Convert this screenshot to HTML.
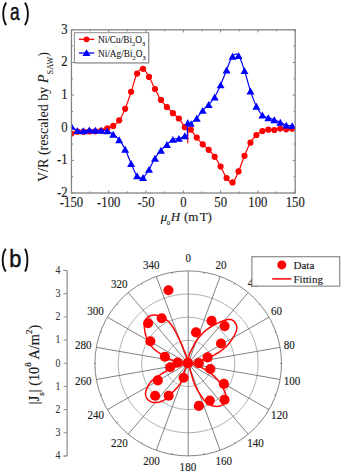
<!DOCTYPE html>
<html><head><meta charset="utf-8"><style>
html,body{margin:0;padding:0;background:#fff;width:342px;height:471px;overflow:hidden;}
svg{display:block;font-family:"Liberation Serif",serif;}
</style></head><body><svg width="342" height="471" viewBox="0 0 342 471"><clipPath id="ca"><rect x="71.45" y="29.80" width="223.75" height="163.20"/></clipPath><path d="M71.45 193.00v-2.60M71.45 29.80v2.60M90.10 193.00v-1.60M90.10 29.80v1.60M108.74 193.00v-2.60M108.74 29.80v2.60M127.39 193.00v-1.60M127.39 29.80v1.60M146.03 193.00v-2.60M146.03 29.80v2.60M164.68 193.00v-1.60M164.68 29.80v1.60M183.32 193.00v-2.60M183.32 29.80v2.60M201.97 193.00v-1.60M201.97 29.80v1.60M220.62 193.00v-2.60M220.62 29.80v2.60M239.26 193.00v-1.60M239.26 29.80v1.60M257.91 193.00v-2.60M257.91 29.80v2.60M276.55 193.00v-1.60M276.55 29.80v1.60M295.20 193.00v-2.60M295.20 29.80v2.60M71.45 193.00h2.60M295.20 193.00h-2.60M71.45 176.68h1.60M295.20 176.68h-1.60M71.45 160.36h2.60M295.20 160.36h-2.60M71.45 144.04h1.60M295.20 144.04h-1.60M71.45 127.72h2.60M295.20 127.72h-2.60M71.45 111.40h1.60M295.20 111.40h-1.60M71.45 95.08h2.60M295.20 95.08h-2.60M71.45 78.76h1.60M295.20 78.76h-1.60M71.45 62.44h2.60M295.20 62.44h-2.60M71.45 46.12h1.60M295.20 46.12h-1.60M71.45 29.80h2.60M295.20 29.80h-2.60" stroke="#858585" stroke-width="1" fill="none"/><g clip-path="url(#ca)"><polyline points="71.45,133.50 72.10,133.28 73.00,132.97 74.06,132.60 75.21,132.23 76.35,131.92 77.42,131.70 78.41,131.60 79.41,131.57 80.40,131.60 81.39,131.65 82.39,131.69 83.38,131.70 84.38,131.68 85.37,131.65 86.37,131.61 87.36,131.57 88.36,131.54 89.35,131.50 90.34,131.47 91.34,131.45 92.33,131.43 93.33,131.40 94.32,131.36 95.32,131.30 96.31,131.23 97.31,131.16 98.30,131.08 99.29,130.96 100.29,130.81 101.28,130.60 102.28,130.32 103.27,129.99 104.27,129.61 105.26,129.21 106.26,128.80 107.25,128.40 108.24,128.04 109.24,127.70 110.23,127.36 111.23,126.97 112.22,126.50 113.22,125.90 114.21,125.21 115.21,124.48 116.20,123.66 117.19,122.72 118.19,121.61 119.18,120.30 120.18,118.79 121.17,117.11 122.17,115.26 123.16,113.26 124.16,111.10 125.15,108.80 126.14,106.30 127.14,103.59 128.13,100.72 129.13,97.76 130.12,94.77 131.12,91.80 132.11,88.68 133.11,85.32 134.10,81.93 135.09,78.71 136.09,75.87 137.08,73.60 138.08,71.88 139.07,70.55 140.07,69.58 141.06,68.99 142.06,68.75 143.05,68.85 144.04,69.40 145.04,70.44 146.03,71.82 147.03,73.44 148.02,75.18 149.02,76.90 150.01,78.70 151.01,80.68 152.00,82.77 152.99,84.91 153.99,87.01 154.98,89.00 155.98,90.93 156.97,92.86 157.97,94.76 158.96,96.59 159.96,98.32 160.95,99.90 161.94,101.31 162.94,102.58 163.93,103.74 164.93,104.84 165.92,105.91 166.92,107.00 167.91,108.10 168.91,109.17 169.90,110.21 170.90,111.23 171.89,112.23 172.88,113.20 173.88,114.10 174.87,114.91 175.87,115.69 176.86,116.51 177.86,117.43 178.85,118.50 179.91,119.85 181.06,121.47 182.21,123.18 183.27,124.82 184.17,126.21 184.82,127.20 187.70,127.80 187.70,143.30 187.90,128.50 190.78,129.70 191.43,130.57 192.33,131.79 193.39,133.23 194.54,134.76 195.69,136.26 196.75,137.60 197.75,138.80 198.74,139.97 199.73,141.10 200.73,142.20 201.72,143.27 202.72,144.30 203.71,145.27 204.71,146.17 205.70,147.03 206.70,147.90 207.69,148.81 208.68,149.80 209.68,150.85 210.67,151.92 211.67,153.04 212.66,154.21 213.66,155.46 214.65,156.80 215.65,158.24 216.64,159.77 217.63,161.37 218.63,163.03 219.62,164.75 220.62,166.50 221.61,168.39 222.61,170.46 223.60,172.58 224.60,174.63 225.59,176.47 226.58,178.00 227.58,179.32 228.57,180.56 229.57,181.61 230.56,182.34 231.56,182.64 232.55,182.40 233.55,181.51 234.54,180.04 235.53,178.15 236.53,175.98 237.52,173.68 238.52,171.40 239.51,169.04 240.51,166.45 241.50,163.73 242.50,160.99 243.49,158.31 244.48,155.80 245.48,153.41 246.47,151.05 247.47,148.76 248.46,146.57 249.46,144.54 250.45,142.70 251.45,141.06 252.44,139.59 253.43,138.28 254.43,137.09 255.42,136.00 256.42,135.00 257.41,134.10 258.41,133.33 259.40,132.66 260.40,132.07 261.39,131.56 262.38,131.10 263.38,130.70 264.37,130.39 265.37,130.14 266.36,129.95 267.36,129.81 268.35,129.70 269.35,129.67 270.34,129.74 271.33,129.85 272.33,129.96 273.32,130.03 274.32,130.00 275.31,129.84 276.31,129.58 277.30,129.28 278.30,128.97 279.29,128.73 280.28,128.60 281.28,128.61 282.27,128.73 283.27,128.90 284.26,129.09 285.26,129.23 286.25,129.30 287.31,129.27 288.46,129.17 289.61,129.04 290.67,128.90 291.57,128.78 292.22,128.70" fill="none" stroke="#ff0000" stroke-width="1.2"/><circle cx="71.45" cy="133.50" r="3.1" fill="#ff0000"/><circle cx="77.42" cy="131.70" r="3.1" fill="#ff0000"/><circle cx="83.38" cy="131.70" r="3.1" fill="#ff0000"/><circle cx="89.35" cy="131.50" r="3.1" fill="#ff0000"/><circle cx="95.32" cy="131.30" r="3.1" fill="#ff0000"/><circle cx="101.28" cy="130.60" r="3.1" fill="#ff0000"/><circle cx="107.25" cy="128.40" r="3.1" fill="#ff0000"/><circle cx="113.22" cy="125.90" r="3.1" fill="#ff0000"/><circle cx="119.18" cy="120.30" r="3.1" fill="#ff0000"/><circle cx="125.15" cy="108.80" r="3.1" fill="#ff0000"/><circle cx="131.12" cy="91.80" r="3.1" fill="#ff0000"/><circle cx="137.08" cy="73.60" r="3.1" fill="#ff0000"/><circle cx="143.05" cy="68.85" r="3.1" fill="#ff0000"/><circle cx="149.02" cy="76.90" r="3.1" fill="#ff0000"/><circle cx="154.98" cy="89.00" r="3.1" fill="#ff0000"/><circle cx="160.95" cy="99.90" r="3.1" fill="#ff0000"/><circle cx="166.92" cy="107.00" r="3.1" fill="#ff0000"/><circle cx="172.88" cy="113.20" r="3.1" fill="#ff0000"/><circle cx="178.85" cy="118.50" r="3.1" fill="#ff0000"/><circle cx="184.82" cy="127.20" r="3.1" fill="#ff0000"/><circle cx="190.78" cy="129.70" r="3.1" fill="#ff0000"/><circle cx="196.75" cy="137.60" r="3.1" fill="#ff0000"/><circle cx="202.72" cy="144.30" r="3.1" fill="#ff0000"/><circle cx="208.68" cy="149.80" r="3.1" fill="#ff0000"/><circle cx="214.65" cy="156.80" r="3.1" fill="#ff0000"/><circle cx="220.62" cy="166.50" r="3.1" fill="#ff0000"/><circle cx="226.58" cy="178.00" r="3.1" fill="#ff0000"/><circle cx="232.55" cy="182.40" r="3.1" fill="#ff0000"/><circle cx="238.52" cy="171.40" r="3.1" fill="#ff0000"/><circle cx="244.48" cy="155.80" r="3.1" fill="#ff0000"/><circle cx="250.45" cy="142.70" r="3.1" fill="#ff0000"/><circle cx="256.42" cy="135.00" r="3.1" fill="#ff0000"/><circle cx="262.38" cy="131.10" r="3.1" fill="#ff0000"/><circle cx="268.35" cy="129.70" r="3.1" fill="#ff0000"/><circle cx="274.32" cy="130.00" r="3.1" fill="#ff0000"/><circle cx="280.28" cy="128.60" r="3.1" fill="#ff0000"/><circle cx="286.25" cy="129.30" r="3.1" fill="#ff0000"/><circle cx="292.22" cy="128.70" r="3.1" fill="#ff0000"/><polyline points="71.45,126.30 72.10,126.82 73.00,127.57 74.06,128.44 75.21,129.31 76.35,130.07 77.42,130.60 78.41,130.88 79.41,131.01 80.40,131.03 81.39,130.97 82.39,130.88 83.38,130.80 84.38,130.70 85.37,130.53 86.37,130.34 87.36,130.14 88.36,129.99 89.35,129.90 90.34,129.89 91.34,129.95 92.33,130.04 93.33,130.14 94.32,130.24 95.32,130.30 96.31,130.33 97.31,130.34 98.30,130.34 99.29,130.35 100.29,130.36 101.28,130.40 102.28,130.43 103.27,130.43 104.27,130.44 105.26,130.50 106.26,130.64 107.25,130.90 108.24,131.27 109.24,131.74 110.23,132.29 111.23,132.90 112.22,133.58 113.22,134.30 114.21,135.05 115.21,135.83 116.20,136.67 117.19,137.59 118.19,138.63 119.18,139.80 120.18,141.10 121.17,142.50 122.17,144.01 123.16,145.64 124.16,147.40 125.15,149.30 126.14,151.42 127.14,153.76 128.13,156.23 129.13,158.73 130.12,161.19 131.12,163.50 132.11,165.78 133.11,168.13 134.10,170.43 135.09,172.56 136.09,174.39 137.08,175.80 138.08,176.81 139.07,177.51 140.07,177.93 141.06,178.05 142.06,177.91 143.05,177.50 144.04,176.75 145.04,175.64 146.03,174.26 147.03,172.69 148.02,171.04 149.02,169.40 150.01,167.67 151.01,165.77 152.00,163.79 152.99,161.80 153.99,159.91 154.98,158.20 155.98,156.67 156.97,155.24 157.97,153.91 158.96,152.66 159.96,151.46 160.95,150.30 161.94,149.20 162.94,148.19 163.93,147.22 164.93,146.30 165.92,145.40 166.92,144.50 167.91,143.56 168.91,142.60 169.90,141.65 170.90,140.77 171.89,140.00 172.88,139.40 173.88,139.02 174.87,138.83 175.87,138.75 176.86,138.71 177.86,138.62 178.85,138.40 179.91,138.02 181.06,137.53 182.21,136.99 183.27,136.46 184.17,136.01 184.82,135.70 187.30,136.00 187.50,123.00 191.20,123.40 196.75,118.30 197.40,117.42 198.30,116.18 199.36,114.72 200.51,113.18 201.65,111.69 202.72,110.40 203.71,109.32 204.71,108.34 205.70,107.43 206.70,106.51 207.69,105.55 208.68,104.50 209.68,103.40 210.67,102.29 211.67,101.14 212.66,99.90 213.66,98.53 214.65,97.00 215.65,95.28 216.64,93.41 217.63,91.41 218.63,89.31 219.62,87.13 220.62,84.90 221.61,82.57 222.61,80.10 223.60,77.56 224.60,74.99 225.59,72.45 226.58,70.00 227.58,67.48 228.57,64.83 229.57,62.21 230.56,59.79 231.56,57.73 232.55,56.20 233.55,55.14 234.54,54.41 235.53,54.04 236.53,54.08 237.52,54.55 238.52,55.50 239.51,57.04 240.51,59.17 241.50,61.73 242.50,64.59 243.49,67.59 244.48,70.60 245.48,73.75 246.47,77.20 247.47,80.79 248.46,84.38 249.46,87.83 250.45,91.00 251.45,93.92 252.44,96.72 253.43,99.38 254.43,101.88 255.42,104.19 256.42,106.30 257.41,108.20 258.41,109.91 259.40,111.44 260.40,112.79 261.39,113.97 262.38,115.00 263.38,115.80 264.37,116.37 265.37,116.76 266.36,117.07 267.36,117.35 268.35,117.70 269.35,118.08 270.34,118.43 271.33,118.76 272.33,119.09 273.32,119.43 274.32,119.80 275.31,120.19 276.31,120.59 277.30,121.01 278.30,121.43 279.29,121.86 280.28,122.30 281.28,122.78 282.27,123.30 283.27,123.83 284.26,124.33 285.26,124.76 286.25,125.10 287.31,125.32 288.46,125.46 289.61,125.52 290.67,125.56 291.57,125.57 292.22,125.60" fill="none" stroke="#0000ff" stroke-width="1.2"/><path d="M71.45 122.85L75.45 129.75L67.45 129.75ZM77.42 127.15L81.42 134.05L73.42 134.05ZM83.38 127.35L87.38 134.25L79.38 134.25ZM89.35 126.45L93.35 133.35L85.35 133.35ZM95.32 126.85L99.32 133.75L91.32 133.75ZM101.28 126.95L105.28 133.85L97.28 133.85ZM107.25 127.45L111.25 134.35L103.25 134.35ZM113.22 130.85L117.22 137.75L109.22 137.75ZM119.18 136.35L123.18 143.25L115.18 143.25ZM125.15 145.85L129.15 152.75L121.15 152.75ZM131.12 160.05L135.12 166.95L127.12 166.95ZM137.08 172.35L141.08 179.25L133.08 179.25ZM143.05 174.05L147.05 180.95L139.05 180.95ZM149.02 165.95L153.02 172.85L145.02 172.85ZM154.98 154.75L158.98 161.65L150.98 161.65ZM160.95 146.85L164.95 153.75L156.95 153.75ZM166.92 141.05L170.92 147.95L162.92 147.95ZM172.88 135.95L176.88 142.85L168.88 142.85ZM178.85 134.95L182.85 141.85L174.85 141.85ZM184.82 132.25L188.82 139.15L180.82 139.15ZM187.80 119.10L191.20 125.70L184.40 125.70ZM191.20 120.20L194.60 126.80L187.80 126.80ZM196.75 114.85L200.75 121.75L192.75 121.75ZM202.72 106.95L206.72 113.85L198.72 113.85ZM208.68 101.05L212.68 107.95L204.68 107.95ZM214.65 93.55L218.65 100.45L210.65 100.45ZM220.62 81.45L224.62 88.35L216.62 88.35ZM226.58 66.55L230.58 73.45L222.58 73.45ZM232.55 52.75L236.55 59.65L228.55 59.65ZM238.52 52.05L242.52 58.95L234.52 58.95ZM244.48 67.15L248.48 74.05L240.48 74.05ZM250.45 87.55L254.45 94.45L246.45 94.45ZM256.42 102.85L260.42 109.75L252.42 109.75ZM262.38 111.55L266.38 118.45L258.38 118.45ZM268.35 114.25L272.35 121.15L264.35 121.15ZM274.32 116.35L278.32 123.25L270.32 123.25ZM280.28 118.85L284.28 125.75L276.28 125.75ZM286.25 121.65L290.25 128.55L282.25 128.55ZM292.22 122.15L296.22 129.05L288.22 129.05Z" fill="#0000ff"/></g><rect x="71.45" y="29.80" width="223.75" height="163.20" fill="none" stroke="#858585" stroke-width="1.3"/><rect x="75.2" y="33.5" width="74.2" height="30.1" fill="#b0b0b0"/><rect x="74.4" y="32.7" width="74.2" height="30.1" fill="#fff" stroke="#8c8c8c" stroke-width="1.0"/><line x1="79" y1="39.3" x2="94.3" y2="39.3" stroke="#ff0000" stroke-width="1.3"/><circle cx="86.5" cy="39.3" r="2.9" fill="#ff0000"/><line x1="79" y1="53.0" x2="94.3" y2="53.0" stroke="#0000ff" stroke-width="1.3"/><path d="M86.50 49.15L90.50 56.05L82.50 56.05Z" fill="#0000ff"/><text transform="translate(98,42.5) scale(1,1.08)" font-family="Liberation Serif, serif" stroke="#1a1a1a" stroke-width="0.1" font-size="9.3" fill="#1a1a1a">Ni/Cu/Bi<tspan font-size="6.4" dy="2.9">2</tspan><tspan dy="-2.9">O</tspan><tspan font-size="6.4" dy="2.9">3</tspan></text><text transform="translate(98,56.9) scale(1,1.08)" font-family="Liberation Serif, serif" stroke="#1a1a1a" stroke-width="0.1" font-size="9.3" fill="#1a1a1a">Ni/Ag/Bi<tspan font-size="6.4" dy="2.9">2</tspan><tspan dy="-2.9">O</tspan><tspan font-size="6.4" dy="2.9">3</tspan></text><text transform="translate(67.7,33.70) scale(0.98,1.08)" font-family="Liberation Serif, serif" stroke="#1a1a1a" stroke-width="0.13" font-size="13" fill="#1a1a1a" text-anchor="end">3</text><text transform="translate(67.7,66.34) scale(0.98,1.08)" font-family="Liberation Serif, serif" stroke="#1a1a1a" stroke-width="0.13" font-size="13" fill="#1a1a1a" text-anchor="end">2</text><text transform="translate(67.7,98.98) scale(0.98,1.08)" font-family="Liberation Serif, serif" stroke="#1a1a1a" stroke-width="0.13" font-size="13" fill="#1a1a1a" text-anchor="end">1</text><text transform="translate(67.7,131.62) scale(0.98,1.08)" font-family="Liberation Serif, serif" stroke="#1a1a1a" stroke-width="0.13" font-size="13" fill="#1a1a1a" text-anchor="end">0</text><text transform="translate(67.7,164.26) scale(0.98,1.08)" font-family="Liberation Serif, serif" stroke="#1a1a1a" stroke-width="0.13" font-size="13" fill="#1a1a1a" text-anchor="end">-1</text><text transform="translate(67.7,196.90) scale(0.98,1.08)" font-family="Liberation Serif, serif" stroke="#1a1a1a" stroke-width="0.13" font-size="13" fill="#1a1a1a" text-anchor="end">-2</text><text transform="translate(71.45,206.8) scale(0.98,1.08)" font-family="Liberation Serif, serif" stroke="#1a1a1a" stroke-width="0.13" font-size="13" fill="#1a1a1a" text-anchor="middle">-150</text><text transform="translate(108.74,206.8) scale(0.98,1.08)" font-family="Liberation Serif, serif" stroke="#1a1a1a" stroke-width="0.13" font-size="13" fill="#1a1a1a" text-anchor="middle">-100</text><text transform="translate(146.03,206.8) scale(0.98,1.08)" font-family="Liberation Serif, serif" stroke="#1a1a1a" stroke-width="0.13" font-size="13" fill="#1a1a1a" text-anchor="middle">-50</text><text transform="translate(183.32,206.8) scale(0.98,1.08)" font-family="Liberation Serif, serif" stroke="#1a1a1a" stroke-width="0.13" font-size="13" fill="#1a1a1a" text-anchor="middle">0</text><text transform="translate(220.62,206.8) scale(0.98,1.08)" font-family="Liberation Serif, serif" stroke="#1a1a1a" stroke-width="0.13" font-size="13" fill="#1a1a1a" text-anchor="middle">50</text><text transform="translate(257.91,206.8) scale(0.98,1.08)" font-family="Liberation Serif, serif" stroke="#1a1a1a" stroke-width="0.13" font-size="13" fill="#1a1a1a" text-anchor="middle">100</text><text transform="translate(295.20,206.8) scale(0.98,1.08)" font-family="Liberation Serif, serif" stroke="#1a1a1a" stroke-width="0.13" font-size="13" fill="#1a1a1a" text-anchor="middle">150</text><text x="160.8" y="220.8" font-family="Liberation Serif, serif" stroke="#1a1a1a" stroke-width="0.13" font-size="13" fill="#1a1a1a"><tspan font-style="italic">&#956;</tspan><tspan font-size="7" dy="4.2" dx="-0.5">0</tspan><tspan font-style="italic" dy="-4.2" dx="0.4">H</tspan><tspan dx="0.6"> (m</tspan><tspan dx="1.2">T</tspan>)</text><text transform="translate(47.5,182.1) rotate(-90)" font-family="Liberation Serif, serif" stroke="#1a1a1a" stroke-width="0.06" font-size="14.1" fill="#1a1a1a">V/R (rescaled by <tspan font-style="italic">P</tspan><tspan font-size="8.3" dy="5">SAW</tspan><tspan dy="-5">)</tspan></text><path d="M6.20 2.60C2.20 8.22,2.20 19.48,6.20 25.10M24.90 2.60C28.90 8.22,28.90 19.48,24.90 25.10" stroke="#111" stroke-width="1.9" fill="none"/><text transform="translate(10.02,20.32) scale(0.693,0.920)" font-family="Liberation Sans, sans-serif" font-size="25" fill="#111" stroke="#111" stroke-width="0.50">a</text><path d="M5.80 248.80C1.67 254.48,1.67 265.82,5.80 271.50M25.00 248.80C28.20 254.48,28.20 265.82,25.00 271.50" stroke="#111" stroke-width="1.9" fill="none"/><text transform="translate(9.33,266.71) scale(0.873,0.969)" font-family="Liberation Sans, sans-serif" font-size="25" fill="#111" stroke="#111" stroke-width="0.50">b</text><path d="M67.1 270.5V456M63.4 270.5H67.1M63.4 456H67.1" stroke="#8a8a8a" stroke-width="1.2" fill="none"/><path d="M63.6 270.50H67.1M63.6 293.69H67.1M63.6 316.88H67.1M63.6 340.06H67.1M63.6 363.25H67.1M63.6 386.44H67.1M63.6 409.62H67.1M63.6 432.81H67.1M63.6 456.00H67.1" stroke="#8a8a8a" stroke-width="1" fill="none"/><text transform="translate(60.4,273.90) scale(0.9,1.12)" font-family="Liberation Serif, serif" stroke="#1a1a1a" stroke-width="0.06" font-size="11" fill="#333" text-anchor="end">4</text><text transform="translate(60.4,297.09) scale(0.9,1.12)" font-family="Liberation Serif, serif" stroke="#1a1a1a" stroke-width="0.06" font-size="11" fill="#333" text-anchor="end">3</text><text transform="translate(60.4,320.27) scale(0.9,1.12)" font-family="Liberation Serif, serif" stroke="#1a1a1a" stroke-width="0.06" font-size="11" fill="#333" text-anchor="end">2</text><text transform="translate(60.4,343.46) scale(0.9,1.12)" font-family="Liberation Serif, serif" stroke="#1a1a1a" stroke-width="0.06" font-size="11" fill="#333" text-anchor="end">1</text><text transform="translate(60.4,366.65) scale(0.9,1.12)" font-family="Liberation Serif, serif" stroke="#1a1a1a" stroke-width="0.06" font-size="11" fill="#333" text-anchor="end">0</text><text transform="translate(60.4,389.84) scale(0.9,1.12)" font-family="Liberation Serif, serif" stroke="#1a1a1a" stroke-width="0.06" font-size="11" fill="#333" text-anchor="end">1</text><text transform="translate(60.4,413.02) scale(0.9,1.12)" font-family="Liberation Serif, serif" stroke="#1a1a1a" stroke-width="0.06" font-size="11" fill="#333" text-anchor="end">2</text><text transform="translate(60.4,436.21) scale(0.9,1.12)" font-family="Liberation Serif, serif" stroke="#1a1a1a" stroke-width="0.06" font-size="11" fill="#333" text-anchor="end">3</text><text transform="translate(60.4,459.40) scale(0.9,1.12)" font-family="Liberation Serif, serif" stroke="#1a1a1a" stroke-width="0.06" font-size="11" fill="#333" text-anchor="end">4</text><ellipse cx="188.20" cy="363.40" rx="23.32" ry="23.12" fill="none" stroke="#a8a8a8" stroke-width="0.9"/><ellipse cx="188.20" cy="363.40" rx="46.65" ry="46.25" fill="none" stroke="#a8a8a8" stroke-width="0.9"/><ellipse cx="188.20" cy="363.40" rx="69.97" ry="69.38" fill="none" stroke="#a8a8a8" stroke-width="0.9"/><path d="M188.20 363.40L188.20 270.90M188.20 363.40L220.11 276.48M188.20 363.40L248.17 292.54M188.20 363.40L269.00 317.15M188.20 363.40L280.08 347.34M188.20 363.40L280.08 379.46M188.20 363.40L269.00 409.65M188.20 363.40L248.17 434.26M188.20 363.40L220.11 450.32M188.20 363.40L188.20 455.90M188.20 363.40L156.29 450.32M188.20 363.40L128.23 434.26M188.20 363.40L107.40 409.65M188.20 363.40L96.32 379.46M188.20 363.40L96.32 347.34M188.20 363.40L107.40 317.15M188.20 363.40L128.23 292.54M188.20 363.40L156.29 276.48" stroke="#6a6a6a" stroke-width="0.85" fill="none"/><ellipse cx="188.20" cy="363.40" rx="93.30" ry="92.50" fill="none" stroke="#777" stroke-width="0.9"/><path d="M204.40 272.31L204.18 273.59M234.85 283.29L234.20 284.42M259.67 303.94L258.68 304.78M275.87 331.76L274.65 332.21M281.50 363.40L280.20 363.40M275.87 395.04L274.65 394.59M259.67 422.86L258.68 422.02M234.85 443.51L234.20 442.38M204.40 454.49L204.18 453.21M172.00 454.49L172.22 453.21M141.55 443.51L142.20 442.38M116.73 422.86L117.72 422.02M100.53 395.04L101.75 394.59M94.90 363.40L96.20 363.40M100.53 331.76L101.75 332.21M116.73 303.94L117.72 304.78M141.55 283.29L142.20 284.42M172.00 272.31L172.22 273.59" stroke="#666" stroke-width="1" fill="none"/><text transform="translate(188.25,261.55) scale(0.97,1.1)" font-family="Liberation Serif, serif" stroke="#1a1a1a" stroke-width="0.13" font-size="11.4" fill="#1a1a1a" text-anchor="middle">0</text><text transform="translate(221.00,268.90) scale(0.97,1.1)" font-family="Liberation Serif, serif" stroke="#1a1a1a" stroke-width="0.13" font-size="11.4" fill="#1a1a1a" text-anchor="middle">20</text><text transform="translate(253.20,287.40) scale(0.97,1.1)" font-family="Liberation Serif, serif" stroke="#1a1a1a" stroke-width="0.13" font-size="11.4" fill="#1a1a1a" text-anchor="middle">40</text><text transform="translate(276.60,314.90) scale(0.97,1.1)" font-family="Liberation Serif, serif" stroke="#1a1a1a" stroke-width="0.13" font-size="11.4" fill="#1a1a1a" text-anchor="middle">60</text><text transform="translate(289.20,349.00) scale(0.97,1.1)" font-family="Liberation Serif, serif" stroke="#1a1a1a" stroke-width="0.13" font-size="11.4" fill="#1a1a1a" text-anchor="middle">80</text><text transform="translate(292.00,385.30) scale(0.97,1.1)" font-family="Liberation Serif, serif" stroke="#1a1a1a" stroke-width="0.13" font-size="11.4" fill="#1a1a1a" text-anchor="middle">100</text><text transform="translate(279.40,419.30) scale(0.97,1.1)" font-family="Liberation Serif, serif" stroke="#1a1a1a" stroke-width="0.13" font-size="11.4" fill="#1a1a1a" text-anchor="middle">120</text><text transform="translate(255.60,446.70) scale(0.97,1.1)" font-family="Liberation Serif, serif" stroke="#1a1a1a" stroke-width="0.13" font-size="11.4" fill="#1a1a1a" text-anchor="middle">140</text><text transform="translate(223.70,465.00) scale(0.97,1.1)" font-family="Liberation Serif, serif" stroke="#1a1a1a" stroke-width="0.13" font-size="11.4" fill="#1a1a1a" text-anchor="middle">160</text><text transform="translate(187.90,471.00) scale(0.97,1.1)" font-family="Liberation Serif, serif" stroke="#1a1a1a" stroke-width="0.13" font-size="11.4" fill="#1a1a1a" text-anchor="middle">180</text><text transform="translate(151.50,465.00) scale(0.97,1.1)" font-family="Liberation Serif, serif" stroke="#1a1a1a" stroke-width="0.13" font-size="11.4" fill="#1a1a1a" text-anchor="middle">200</text><text transform="translate(119.40,447.00) scale(0.97,1.1)" font-family="Liberation Serif, serif" stroke="#1a1a1a" stroke-width="0.13" font-size="11.4" fill="#1a1a1a" text-anchor="middle">220</text><text transform="translate(95.70,419.40) scale(0.97,1.1)" font-family="Liberation Serif, serif" stroke="#1a1a1a" stroke-width="0.13" font-size="11.4" fill="#1a1a1a" text-anchor="middle">240</text><text transform="translate(83.30,385.10) scale(0.97,1.1)" font-family="Liberation Serif, serif" stroke="#1a1a1a" stroke-width="0.13" font-size="11.4" fill="#1a1a1a" text-anchor="middle">260</text><text transform="translate(83.30,349.40) scale(0.97,1.1)" font-family="Liberation Serif, serif" stroke="#1a1a1a" stroke-width="0.13" font-size="11.4" fill="#1a1a1a" text-anchor="middle">280</text><text transform="translate(95.50,315.10) scale(0.97,1.1)" font-family="Liberation Serif, serif" stroke="#1a1a1a" stroke-width="0.13" font-size="11.4" fill="#1a1a1a" text-anchor="middle">300</text><text transform="translate(119.30,287.50) scale(0.97,1.1)" font-family="Liberation Serif, serif" stroke="#1a1a1a" stroke-width="0.13" font-size="11.4" fill="#1a1a1a" text-anchor="middle">320</text><text transform="translate(151.30,269.10) scale(0.97,1.1)" font-family="Liberation Serif, serif" stroke="#1a1a1a" stroke-width="0.13" font-size="11.4" fill="#1a1a1a" text-anchor="middle">340</text><polyline points="188.20,363.40 188.24,362.82 188.27,362.03 188.31,361.10 188.37,360.06 188.45,358.98 188.55,357.89 188.70,356.85 188.90,355.90 189.15,355.04 189.44,354.22 189.76,353.42 190.12,352.64 190.51,351.85 190.92,351.03 191.35,350.19 191.80,349.30 192.27,348.35 192.76,347.36 193.27,346.34 193.81,345.29 194.37,344.24 194.96,343.20 195.57,342.18 196.20,341.20 196.87,340.23 197.57,339.27 198.31,338.31 199.06,337.36 199.83,336.44 200.60,335.55 201.36,334.70 202.10,333.90 202.82,333.15 203.52,332.45 204.22,331.80 204.91,331.17 205.62,330.56 206.35,329.97 207.10,329.39 207.90,328.80 208.74,328.21 209.60,327.63 210.49,327.06 211.41,326.51 212.34,325.96 213.28,325.43 214.24,324.91 215.20,324.40 216.18,323.90 217.20,323.39 218.23,322.89 219.27,322.41 220.32,321.95 221.34,321.53 222.34,321.14 223.30,320.80 224.23,320.49 225.16,320.19 226.07,319.92 226.96,319.68 227.82,319.50 228.65,319.38 229.45,319.34 230.20,319.40 230.92,319.55 231.62,319.79 232.29,320.11 232.92,320.49 233.51,320.93 234.06,321.42 234.56,321.95 235.00,322.50 235.40,323.09 235.77,323.73 236.11,324.42 236.39,325.14 236.61,325.91 236.76,326.71 236.83,327.54 236.80,328.40 236.68,329.30 236.46,330.24 236.16,331.22 235.79,332.24 235.36,333.27 234.88,334.32 234.36,335.36 233.80,336.40 233.19,337.45 232.52,338.54 231.79,339.65 231.02,340.76 230.21,341.85 229.38,342.92 228.54,343.94 227.70,344.90 226.85,345.80 225.98,346.67 225.09,347.49 224.18,348.29 223.25,349.05 222.31,349.79 221.36,350.50 220.40,351.20 219.44,351.87 218.48,352.50 217.51,353.10 216.53,353.67 215.53,354.24 214.49,354.79 213.42,355.34 212.30,355.90 211.10,356.47 209.83,357.05 208.49,357.64 207.14,358.21 205.79,358.77 204.48,359.29 203.24,359.77 202.10,360.20 201.06,360.57 200.10,360.90 199.20,361.19 198.34,361.45 197.50,361.68 196.68,361.90 195.85,362.10 195.00,362.30 194.09,362.49 193.12,362.67 192.13,362.83 191.16,362.98 190.24,363.11 189.41,363.23 188.72,363.32 188.20,363.40" fill="none" stroke="#ff0000" stroke-width="1.5" stroke-linejoin="round"/><polyline points="188.20,363.40 189.07,363.61 190.22,363.86 191.59,364.15 193.11,364.49 194.73,364.89 196.37,365.36 197.99,365.89 199.50,366.50 200.98,367.21 202.52,368.03 204.09,368.93 205.65,369.89 207.18,370.88 208.65,371.88 210.04,372.86 211.30,373.80 212.44,374.70 213.48,375.58 214.44,376.45 215.34,377.32 216.18,378.21 217.00,379.13 217.80,380.09 218.60,381.10 219.41,382.18 220.20,383.33 220.98,384.52 221.73,385.74 222.44,386.96 223.09,388.18 223.68,389.36 224.20,390.50 224.66,391.61 225.09,392.71 225.46,393.79 225.78,394.86 226.03,395.90 226.19,396.91 226.25,397.88 226.20,398.80 226.04,399.69 225.78,400.57 225.43,401.42 224.99,402.23 224.47,402.99 223.88,403.68 223.22,404.29 222.50,404.80 221.69,405.24 220.76,405.62 219.74,405.93 218.66,406.17 217.54,406.32 216.41,406.39 215.29,406.35 214.20,406.20 213.11,405.93 211.99,405.53 210.84,405.03 209.70,404.44 208.57,403.77 207.49,403.05 206.46,402.29 205.50,401.50 204.62,400.67 203.81,399.77 203.05,398.81 202.32,397.80 201.63,396.75 200.95,395.68 200.28,394.59 199.60,393.50 198.91,392.40 198.24,391.28 197.57,390.14 196.91,388.98 196.27,387.79 195.66,386.56 195.07,385.30 194.50,384.00 193.96,382.62 193.45,381.16 192.96,379.65 192.49,378.11 192.05,376.58 191.61,375.08 191.20,373.64 190.80,372.30 190.40,370.99 190.01,369.67 189.63,368.37 189.27,367.12 188.94,365.96 188.64,364.93 188.39,364.07 188.20,363.40" fill="none" stroke="#ff0000" stroke-width="1.5" stroke-linejoin="round"/><polyline points="188.20,363.40 187.86,364.08 187.40,364.97 186.85,366.03 186.24,367.21 185.61,368.48 184.98,369.77 184.40,371.06 183.90,372.30 183.49,373.52 183.16,374.79 182.87,376.09 182.59,377.41 182.28,378.72 181.92,380.02 181.47,381.28 180.90,382.50 180.21,383.67 179.43,384.80 178.57,385.90 177.66,386.99 176.69,388.06 175.68,389.13 174.65,390.21 173.60,391.30 172.52,392.44 171.38,393.65 170.20,394.88 168.99,396.09 167.76,397.26 166.53,398.34 165.30,399.30 164.10,400.10 162.89,400.75 161.66,401.30 160.42,401.75 159.18,402.09 157.96,402.35 156.79,402.52 155.66,402.60 154.60,402.60 153.59,402.51 152.60,402.31 151.65,402.03 150.74,401.66 149.89,401.21 149.11,400.69 148.41,400.12 147.80,399.50 147.26,398.82 146.76,398.05 146.33,397.22 145.97,396.33 145.70,395.39 145.54,394.39 145.50,393.36 145.60,392.30 145.85,391.16 146.24,389.92 146.76,388.61 147.38,387.27 148.09,385.93 148.86,384.63 149.67,383.41 150.50,382.30 151.39,381.30 152.36,380.36 153.40,379.49 154.49,378.66 155.62,377.87 156.76,377.11 157.89,376.35 159.00,375.60 160.09,374.85 161.19,374.13 162.29,373.43 163.41,372.74 164.53,372.08 165.67,371.44 166.82,370.81 168.00,370.20 169.20,369.61 170.43,369.03 171.67,368.47 172.92,367.92 174.19,367.41 175.46,366.91 176.73,366.44 178.00,366.00 179.34,365.58 180.78,365.18 182.26,364.79 183.72,364.44 185.11,364.11 186.36,363.83 187.41,363.59 188.20,363.40" fill="none" stroke="#ff0000" stroke-width="1.5" stroke-linejoin="round"/><polyline points="188.20,363.40 187.40,363.24 186.33,363.03 185.06,362.78 183.65,362.51 182.17,362.21 180.69,361.90 179.28,361.60 178.00,361.30 176.86,361.04 175.80,360.83 174.79,360.64 173.78,360.43 172.75,360.17 171.67,359.83 170.50,359.38 169.20,358.80 167.73,358.05 166.09,357.17 164.35,356.17 162.56,355.09 160.78,353.98 159.07,352.85 157.49,351.75 156.10,350.70 154.89,349.71 153.78,348.74 152.78,347.79 151.86,346.83 151.02,345.86 150.24,344.85 149.50,343.80 148.80,342.70 148.14,341.53 147.55,340.30 147.01,339.03 146.53,337.72 146.09,336.41 145.72,335.09 145.38,333.78 145.10,332.50 144.85,331.21 144.65,329.89 144.48,328.55 144.37,327.22 144.32,325.93 144.34,324.70 144.43,323.55 144.60,322.50 144.86,321.55 145.22,320.66 145.66,319.83 146.16,319.07 146.71,318.38 147.30,317.76 147.90,317.20 148.50,316.70 149.12,316.28 149.77,315.93 150.46,315.66 151.17,315.44 151.90,315.29 152.66,315.18 153.42,315.12 154.20,315.10 154.99,315.11 155.79,315.16 156.61,315.26 157.44,315.40 158.30,315.60 159.18,315.86 160.08,316.20 161.00,316.60 161.97,317.08 163.01,317.64 164.07,318.26 165.16,318.94 166.23,319.69 167.28,320.48 168.28,321.32 169.20,322.20 170.05,323.14 170.86,324.14 171.62,325.20 172.34,326.31 173.05,327.46 173.74,328.63 174.42,329.81 175.10,331.00 175.79,332.22 176.46,333.48 177.13,334.78 177.79,336.10 178.43,337.42 179.04,338.72 179.63,339.98 180.20,341.20 180.73,342.38 181.24,343.53 181.73,344.67 182.19,345.78 182.63,346.87 183.06,347.94 183.49,348.98 183.90,350.00 184.31,350.99 184.72,351.96 185.11,352.90 185.49,353.82 185.86,354.72 186.20,355.59 186.51,356.46 186.80,357.30 187.06,358.16 187.29,359.05 187.50,359.94 187.68,360.81 187.84,361.61 187.98,362.33 188.10,362.94 188.20,363.40" fill="none" stroke="#ff0000" stroke-width="1.5" stroke-linejoin="round"/><circle cx="187.90" cy="362.90" r="5.05" fill="#ff0000"/><circle cx="196.00" cy="332.40" r="5.05" fill="#ff0000"/><circle cx="211.60" cy="320.90" r="5.05" fill="#ff0000"/><circle cx="224.60" cy="326.10" r="5.05" fill="#ff0000"/><circle cx="221.00" cy="343.50" r="5.05" fill="#ff0000"/><circle cx="207.60" cy="357.40" r="5.05" fill="#ff0000"/><circle cx="198.80" cy="363.10" r="5.05" fill="#ff0000"/><circle cx="210.40" cy="369.00" r="5.05" fill="#ff0000"/><circle cx="223.90" cy="383.90" r="5.05" fill="#ff0000"/><circle cx="224.60" cy="399.80" r="5.05" fill="#ff0000"/><circle cx="209.80" cy="400.60" r="5.05" fill="#ff0000"/><circle cx="198.90" cy="405.90" r="5.05" fill="#ff0000"/><circle cx="188.00" cy="363.30" r="5.05" fill="#ff0000"/><circle cx="183.60" cy="377.80" r="5.05" fill="#ff0000"/><circle cx="168.70" cy="395.70" r="5.05" fill="#ff0000"/><circle cx="155.10" cy="395.80" r="5.05" fill="#ff0000"/><circle cx="157.80" cy="380.40" r="5.05" fill="#ff0000"/><circle cx="170.20" cy="367.30" r="5.05" fill="#ff0000"/><circle cx="177.60" cy="362.60" r="5.05" fill="#ff0000"/><circle cx="164.90" cy="356.70" r="5.05" fill="#ff0000"/><circle cx="150.40" cy="341.20" r="5.05" fill="#ff0000"/><circle cx="148.10" cy="323.30" r="5.05" fill="#ff0000"/><circle cx="161.70" cy="318.20" r="5.05" fill="#ff0000"/><circle cx="168.45" cy="290.20" r="5.05" fill="#ff0000"/><rect x="251.9" y="256.7" width="87.8" height="29.4" fill="#fff" stroke="#8a8a8a" stroke-width="1.2"/><circle cx="281.8" cy="264.9" r="4.5" fill="#ff0000"/><line x1="272.2" y1="278.9" x2="291.3" y2="278.9" stroke="#ff0000" stroke-width="1.5"/><text x="293.4" y="269.0" font-family="Liberation Serif, serif" stroke="#1a1a1a" stroke-width="0.13" font-size="11.1" fill="#1a1a1a">Data</text><text x="293.4" y="282.6" font-family="Liberation Serif, serif" stroke="#1a1a1a" stroke-width="0.13" font-size="11.1" fill="#1a1a1a">Fitting</text><text transform="translate(38.9,404.2) rotate(-90)" font-family="Liberation Serif, serif" stroke="#1a1a1a" stroke-width="0.18" font-size="14.3" fill="#1a1a1a">|J<tspan font-size="9" dy="5.1">s</tspan><tspan dy="-5.1">| (10</tspan><tspan font-size="9" dy="-7.8">8</tspan><tspan dy="7.8"> A/m</tspan><tspan font-size="9" dy="-6.6">2</tspan><tspan dy="6.6">)</tspan></text></svg></body></html>
